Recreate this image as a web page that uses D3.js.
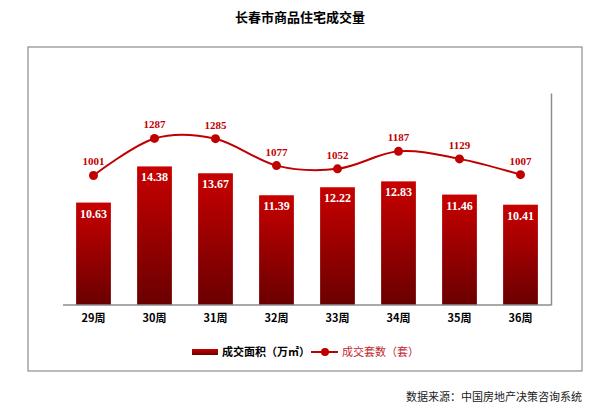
<!DOCTYPE html>
<html>
<head>
<meta charset="utf-8">
<script src="https://cdn.jsdelivr.net/npm/d3@7"></script>
<style>
  body { margin: 0; background: #fff; }
  svg { display: block; }
</style>
</head>
<body>
<div id="chart"></div>
<script>
let weeks = ["29周", "30周", "31周", "32周", "33周", "34周", "35周", "36周"];
let areaValues = [10.63, 14.38, 13.67, 11.39, 12.22, 12.83, 11.46, 10.41];
let unitValues = [1001, 1287, 1285, 1077, 1052, 1187, 1129, 1007];

let width = 600;
let height = 412;
let plot = { left: 63, right: 551, top: 93, bottom: 305 };
let cjk = "'Noto Sans CJK SC', 'Noto Sans', sans-serif";

let svg = d3.select("#chart").append("svg")
    .attr("width", width)
    .attr("height", height);

// 渐变
let grad = svg.append("defs").append("linearGradient")
    .attr("id", "barGrad")
    .attr("x1", 0).attr("y1", 0).attr("x2", 0).attr("y2", 1);
grad.append("stop").attr("offset", "0%").attr("stop-color", "#c80000");
grad.append("stop").attr("offset", "100%").attr("stop-color", "#6a0000");

// 标题
svg.append("text")
    .attr("x", 300).attr("y", 22)
    .attr("text-anchor", "middle")
    .attr("font-family", cjk)
    .attr("font-size", "13px")
    .attr("font-weight", "bold")
    .attr("fill", "#000")
    .text("长春市商品住宅成交量");

// 外框
svg.append("rect")
    .attr("x", 28).attr("y", 47)
    .attr("width", 554).attr("height", 324)
    .attr("fill", "none")
    .attr("stroke", "#8c8c8c")
    .attr("stroke-width", 1.2);

let x = d3.scaleBand()
    .domain(weeks)
    .range([plot.left, plot.right])
    .paddingInner(0.43)
    .paddingOuter(0.215);
let yArea = d3.scaleLinear().domain([0, 22]).range([plot.bottom, plot.top]);
let yUnit = d3.scaleLinear().domain([0, 1638]).range([plot.bottom, plot.top]);

// 柱子
svg.append("g").selectAll("rect")
    .data(areaValues)
    .join("rect")
    .attr("x", (d, i) => x(weeks[i]))
    .attr("y", d => yArea(d))
    .attr("width", x.bandwidth())
    .attr("height", d => plot.bottom - yArea(d))
    .attr("fill", "url(#barGrad)");

svg.append("g").selectAll("text")
    .data(areaValues)
    .join("text")
    .attr("x", (d, i) => x(weeks[i]) + x.bandwidth() / 2)
    .attr("y", d => yArea(d) + 15)
    .attr("text-anchor", "middle")
    .attr("font-family", "'Liberation Serif', serif")
    .attr("font-size", "12px")
    .attr("font-weight", "bold")
    .attr("fill", "#fff")
    .text(d => d3.format(".2f")(d));

// 坐标轴
let xAxis = svg.append("g")
    .attr("transform", `translate(0, ${plot.bottom})`)
    .call(d3.axisBottom(x).tickSize(0).tickPadding(9));
xAxis.select(".domain").attr("stroke", "#8c8c8c").attr("stroke-width", 1.5)
    .attr("d", `M${plot.left},0H${plot.right}`);
xAxis.selectAll("text")
    .attr("font-family", cjk)
    .attr("font-size", "11px")
    .attr("font-weight", "bold")
    .attr("fill", "#000");

let rAxis = svg.append("g")
    .attr("transform", `translate(${plot.right}, 0)`)
    .call(d3.axisRight(yUnit).tickSize(0).tickValues([]));
rAxis.select(".domain").attr("stroke", "#8c8c8c").attr("stroke-width", 1.5);

// 折线
let line = d3.line()
    .x((d, i) => x(weeks[i]) + x.bandwidth() / 2)
    .y(d => yUnit(d))
    .curve(d3.curveCardinal.tension(0));

svg.append("path")
    .datum(unitValues)
    .attr("d", line)
    .attr("fill", "none")
    .attr("stroke", "#c00000")
    .attr("stroke-width", 2);

svg.append("g").selectAll("circle")
    .data(unitValues)
    .join("circle")
    .attr("cx", (d, i) => x(weeks[i]) + x.bandwidth() / 2)
    .attr("cy", d => yUnit(d))
    .attr("r", 4.5)
    .attr("fill", "#c00000");

svg.append("g").selectAll("text")
    .data(unitValues)
    .join("text")
    .attr("x", (d, i) => x(weeks[i]) + x.bandwidth() / 2)
    .attr("y", d => yUnit(d) - 10)
    .attr("text-anchor", "middle")
    .attr("font-family", "'Liberation Serif', serif")
    .attr("font-size", "11px")
    .attr("font-weight", "bold")
    .attr("fill", "#c00000")
    .text(d => d);

// 图例
let legend = svg.append("g");
legend.append("rect")
    .attr("x", 192).attr("y", 349)
    .attr("width", 26).attr("height", 6)
    .attr("fill", "url(#barGrad)");
legend.append("text")
    .attr("x", 222).attr("y", 356)
    .attr("font-family", cjk)
    .attr("font-size", "11px")
    .attr("font-weight", "bold")
    .attr("fill", "#000")
    .text("成交面积（万㎡）");
legend.append("line")
    .attr("x1", 311).attr("x2", 338)
    .attr("y1", 352).attr("y2", 352)
    .attr("stroke", "#c00000").attr("stroke-width", 2);
legend.append("circle")
    .attr("cx", 325).attr("cy", 352).attr("r", 4)
    .attr("fill", "#c00000");
legend.append("text")
    .attr("x", 342).attr("y", 356)
    .attr("font-family", cjk)
    .attr("font-size", "11px")
    .attr("fill", "#c0282d")
    .text("成交套数（套）");

// 数据来源
svg.append("text")
    .attr("x", 582).attr("y", 401)
    .attr("text-anchor", "end")
    .attr("font-family", cjk)
    .attr("font-size", "11px")
    .attr("fill", "#222")
    .text("数据来源：中国房地产决策咨询系统");
</script>
</body>
</html>
